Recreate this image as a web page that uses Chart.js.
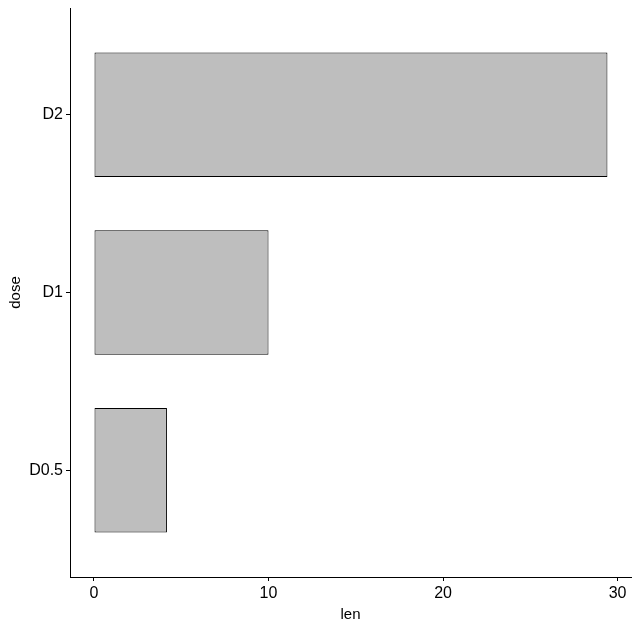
<!DOCTYPE html>
<html>
<head>
<meta charset="utf-8">
<script src="https://cdn.jsdelivr.net/npm/chart.js@4/dist/chart.umd.min.js"></script>
<style>
  html, body { margin: 0; padding: 0; background: #fff; }
  #myChart { display: block; }
</style>
</head>
<body>
<canvas id="myChart" width="641" height="630"></canvas>
<script>
// data, bottom to top
const doses = ["D0.5", "D1", "D2"];
const lens = [4.18, 10.0, 29.42];
const xTicks = [0, 10, 20, 30];

const points = doses.map((d, i) => ({ x: lens[i], y: i + 1 }));

const ctx = document.getElementById("myChart").getContext("2d");
Chart.defaults.font.family = "'Liberation Sans', Arial, sans-serif";
Chart.defaults.color = "#000";

new Chart(ctx, {
  type: "bar",
  data: {
    datasets: [
      {
        label: "len",
        data: points,
        backgroundColor: "#BEBEBE",
        borderColor: "#000",
        borderWidth: 1,
        borderSkipped: false,
        categoryPercentage: 0.7,
        barPercentage: 1
      }
    ]
  },
  options: {
    responsive: false,
    animation: false,
    indexAxis: "y",
    layout: { padding: { top: 8, right: 10, left: 0, bottom: 0 } },
    plugins: { legend: { display: false }, tooltip: { enabled: false } },
    scales: {
      x: {
        type: "linear",
        min: -1.375,
        max: 30.77,
        afterBuildTicks: (s) => { s.ticks = xTicks.map(v => ({ value: v })); },
        afterFit: (s) => { s.height = 53; s.paddingLeft = 0; s.paddingRight = 0; },
        grid: { drawOnChartArea: false, drawTicks: true, tickLength: 4, tickColor: "#000" },
        border: { color: "#000", width: 1 },
        ticks: { font: { size: 16 }, color: "#000", padding: 3, maxRotation: 0 },
        title: { display: true, text: "len", font: { size: 15 }, color: "#000", padding: { top: 0, bottom: 6 } }
      },
      y: {
        type: "linear",
        offset: false,
        min: 0.4,
        max: 3.6,
        afterBuildTicks: (s) => { s.ticks = doses.map((d, i) => ({ value: i + 1 })); },
        afterFit: (s) => { s.width = 70; s.paddingTop = 0; s.paddingBottom = 0; },
        grid: { offset: false, drawOnChartArea: false, drawTicks: true, tickLength: 4, tickColor: "#000" },
        border: { color: "#000", width: 1 },
        ticks: {
          font: { size: 16 }, color: "#000", padding: 3,
          callback: (v) => doses[v - 1]
        },
        title: { display: true, text: "dose", font: { size: 15 }, color: "#000", padding: { top: 7, bottom: 0 } }
      }
    }
  }
});
</script>
</body>
</html>
